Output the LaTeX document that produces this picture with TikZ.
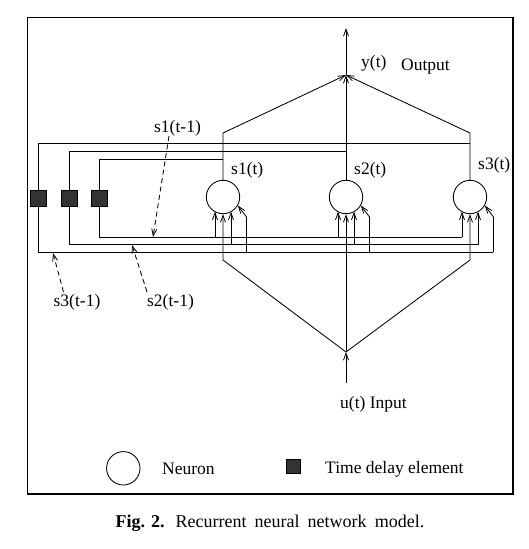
\documentclass[tikz,border=0pt]{standalone}
\usepackage{fontspec}
\setmainfont{Liberation Serif}
\usetikzlibrary{arrows.meta,calc}
\begin{document}
\begin{tikzpicture}[x=1pt,y=-1pt,
  wire/.style={line width=0.85pt},
  arr/.style={wire,-{Straight Barb[length=7pt,width=5pt,line width=0.8pt]}},
  darr/.style={arr,dash pattern=on 5pt off 3.5pt},
  neuron/.style={circle,draw,line width=0.85pt,minimum size=33.4pt,inner sep=0pt},
  delay/.style={rectangle,draw,line width=0.5pt,fill=black!80,minimum width=16pt,minimum height=16.5pt,inner sep=0pt},
  lbl/.style={inner sep=0pt,font=\fontsize{17.5}{20}\selectfont}
]
\useasboundingbox (0,0) rectangle (528,549);
\draw[line width=1.1pt] (27.3,17.3) rectangle (513,494);

% neurons and delay elements
\node[neuron] (n1) at (223,197) {};
\node[neuron] (n2) at (346,197) {};
\node[neuron] (n3) at (470,197) {};
\node[delay] (d3) at (38.3,198.3) {};
\node[delay] (d2) at (69.3,198.3) {};
\node[delay] (d1) at (99.3,198.3) {};

% key points
\coordinate (out) at (346,75);
\coordinate (outtip) at (346,28);
\coordinate (in) at (346,352);
\coordinate (inbot) at (346,383);
\coordinate (tl) at (223,133);
\coordinate (tr) at (470,133);
\coordinate (bl) at (223,260);
\coordinate (br) at (470,260);

% output side
\draw[arr] (n1.north) -- (tl) -- (out);
\draw[arr] (n3.north) -- (tr) -- (out);
\draw[arr] (n2.north) -- (out);
\draw[arr] (out) -- (outtip);

% input side
\draw[arr] (inbot) -- (in);
\draw[arr] (in) -- (bl) -- (n1.south);
\draw[arr] (in) -- (n2.south);
\draw[arr] (in) -- (br) -- (n3.south);

% feedback s1
\draw[wire] (223,159.5) -| (d1.north);
\draw[wire] (d1.south) |- (462,237);
% feedback s2
\draw[wire] (346,151.5) -| (d2.north);
\draw[wire] (d2.south) |- (478,244.5);
% feedback s3
\draw[wire] (470,143.5) -| (d3.north);
\draw[wire] (d3.south) |- (493,252);

% recurrent inputs into each neuron
\foreach \n/\cx in {n1/223,n2/346,n3/470}{
  \draw[arr] ($(\cx-8,237)$) -- ($(\n)+(-8,14.7)$);
  \draw[arr] ($(\cx+8,244.5)$) -- ($(\n)+(8,14.7)$);
  \draw[arr] ($(\cx+23.5,252)$) -- ($(\cx+23.5,217)$) -- (\n.-30);
}

% labels
\node[lbl,anchor=west] (ly) at (361,63) {y(t)};
\node[lbl,anchor=west] (lo) at (401,67) {Output};
\node[lbl,anchor=west] (ls1) at (231,170) {s1(t)};
\node[lbl,anchor=west] (ls2) at (354,170) {s2(t)};
\node[lbl,anchor=west] (ls3) at (478,165) {s3(t)};
\node[lbl,anchor=west] (lu) at (340,404) {u(t) Input};
\node[lbl] (l1) at (177.5,128) {s1(t-1)};
\node[lbl] (l2) at (170.5,302) {s2(t-1)};
\node[lbl] (l3) at (77,302) {s3(t-1)};
\coordinate (t1) at (153,237);
\coordinate (t2) at (132,245);
\coordinate (t3) at (53,253);
\draw[darr] (l1.south west) ++(15,0) -- (t1);
\draw[darr] (l2.north west) ++(0,-2) -- (t2);
\draw[darr] (l3.north west) ++(10,-2) -- (t3);

% legend
\node[neuron] (legn) at (123.3,468.3) {};
\node[lbl,anchor=west] (legnt) at (162,469) {Neuron};
\node[delay,minimum width=14pt,minimum height=14pt] (legd) at (293.3,466) {};
\node[lbl,anchor=west] (legdt) at (325,469) {Time delay element};

% caption
\node[lbl,font=\fontsize{18}{21}\selectfont] (cap) at (270,523) {\textbf{Fig. 2.}\hspace{0.6em}Recurrent\hspace{0.45em}neural\hspace{0.45em}network\hspace{0.45em}model.};
\end{tikzpicture}
\end{document}
